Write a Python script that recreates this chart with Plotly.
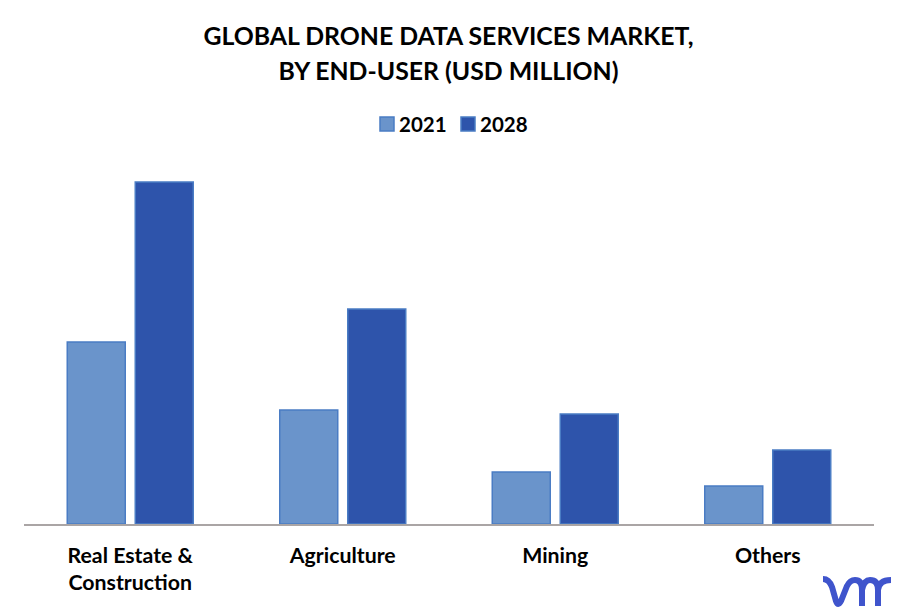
import plotly.graph_objects as go

W = 897
H = 614

# No value axis in the source, so the values are bar heights
categories = ['Real Estate &<br>Construction', 'Agriculture', 'Mining', 'Others']
series_names = ['2021', '2028']
values_2021 = [182, 114, 52, 38]
values_2028 = [342, 215, 110, 74]

fill_2021 = '#6a94cb'
fill_2028 = '#2e54ab'
edge = '#4a7cc4'

# Plot area in pixels
left, right, top, bottom = 24, 23, 150, 90


def px(x):
    return (x - left) / (W - left - right)


def py(y):
    return (H - bottom - y) / (H - top - bottom)


fig = go.Figure()
fig.add_bar(x=categories, y=values_2021, name=series_names[0],
            marker={'color': fill_2021, 'line': {'color': edge, 'width': 1.5}})
fig.add_bar(x=categories, y=values_2028, name=series_names[1],
            marker={'color': fill_2028, 'line': {'color': edge, 'width': 1.5}})

# vmr logo, bottom right corner
logo = (f'M {px(823)} {py(579)} Q {px(829)} {py(579)} {px(832)} {py(587)} '
        f'L {px(836)} {py(601)} Q {px(838)} {py(607)} {px(841)} {py(601)} '
        f'L {px(847)} {py(586)} Q {px(850)} {py(580)} {px(855)} {py(580)} '
        f'Q {px(862)} {py(580)} {px(862)} {py(590)} L {px(862)} {py(606)} '
        f'M {px(862)} {py(590)} Q {px(864)} {py(580)} {px(870)} {py(580)} '
        f'Q {px(878)} {py(580)} {px(878)} {py(590)} L {px(878)} {py(606)} '
        f'M {px(878)} {py(590)} Q {px(879)} {py(580)} {px(891)} {py(580)}')

shapes = [{
    'type': 'path',
    'xref': 'paper',
    'yref': 'paper',
    'path': logo,
    'line': {'color': '#3f54cc', 'width': 6},
}]

# Legend drawn by hand: the swatches sit much closer to the text than plotly's own legend allows
annotations = []
for name, color, x0 in [(series_names[0], fill_2021, 380), (series_names[1], fill_2028, 461)]:
    shapes.append({
        'type': 'rect',
        'xref': 'paper',
        'yref': 'paper',
        'x0': px(x0),
        'x1': px(x0 + 14),
        'y0': py(131),
        'y1': py(117),
        'fillcolor': color,
        'line': {'color': edge, 'width': 1.5},
    })
    annotations.append({
        'text': f'<b>{name}</b>',
        'xref': 'paper',
        'yref': 'paper',
        'x': px(x0 + 17),
        'y': py(124),
        'xanchor': 'left',
        'yanchor': 'middle',
        'showarrow': False,
        'font': {'size': 20.5},
    })

# Line spacing follows the outer font size, the spans set the visible size
title_lines = ['GLOBAL DRONE DATA SERVICES MARKET,', 'BY END-USER (USD MILLION)']
title_text = '<br>'.join(f'<span style="font-size:24.8px"><b>{line}</b></span>' for line in title_lines)

fig.update_layout(
    width=W,
    height=H,
    margin={'l': left, 'r': right, 't': top, 'b': bottom},
    paper_bgcolor='white',
    plot_bgcolor='white',
    font={'family': 'Lato', 'color': '#000000'},
    title={
        'text': title_text,
        'font': {'size': 27, 'family': 'Lato'},
        'x': 0.5,
        'xanchor': 'center',
        'y': 0.927,
        'yanchor': 'top',
    },
    barmode='group',
    bargap=0.36,
    bargroupgap=0.147,
    showlegend=False,
    xaxis={
        'showgrid': False,
        'showline': True,
        'linecolor': '#aaa5a5',
        'linewidth': 2,
        'ticks': '',
        'tickfont': {'size': 21.3, 'weight': 'bold'},
        'ticklabelstandoff': 11,
        'fixedrange': True,
    },
    yaxis={
        'visible': False,
        'range': [0, 374],
        'fixedrange': True,
    },
    shapes=shapes,
    annotations=annotations,
)

fig.write_html("out.html", config={'displayModeBar': False},
               post_script="document.body.style.margin = '0';")
